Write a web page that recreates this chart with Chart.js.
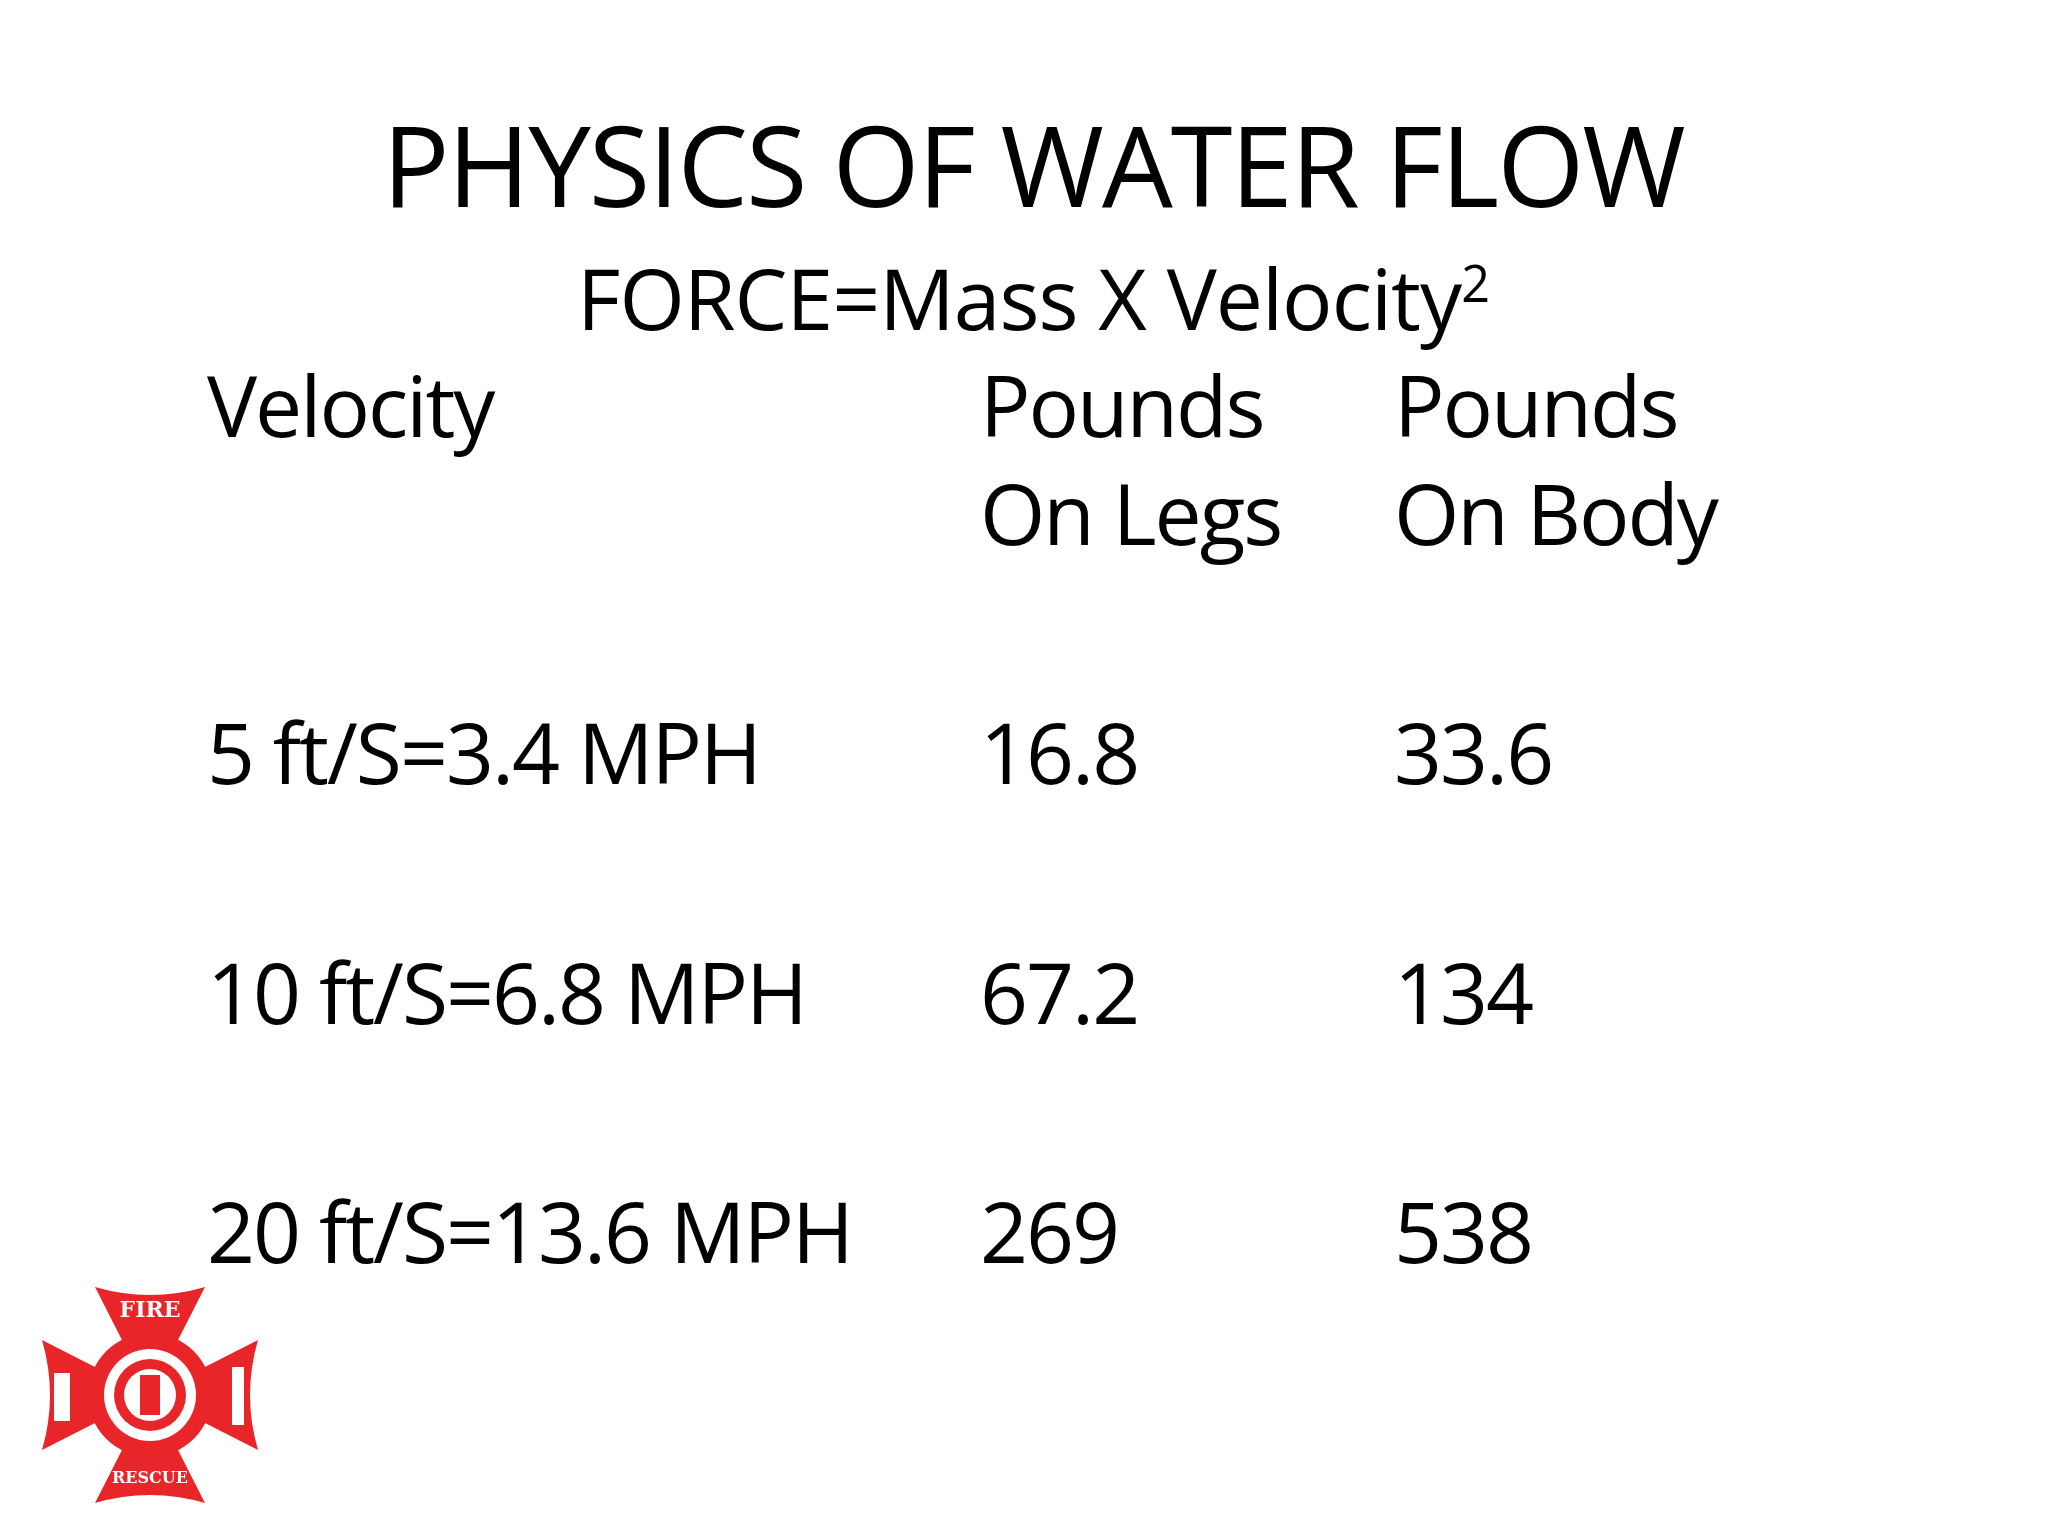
<!DOCTYPE html>
<html><head><meta charset="utf-8">
<script src="https://cdn.jsdelivr.net/npm/chart.js@4"></script>
<style>
html,body{margin:0;width:2048px;height:1536px;background:#fff;overflow:hidden;font-family:"Open Sans",sans-serif;color:#000}
.t{position:absolute;white-space:nowrap;line-height:1}
#logo{position:absolute;left:30px;top:1275px;width:240px;height:240px}
</style></head><body>
<div id="wrap"></div>
<div id="logo"><canvas id="c" width="240" height="240"></canvas></div>
<script>
const title = "PHYSICS OF WATER FLOW";
const subtitle = "FORCE=Mass X Velocity";
const headers = [["Velocity",""],["Pounds","On Legs"],["Pounds","On Body"]];
const velocities = ["5 ft/S=3.4 MPH","10 ft/S=6.8 MPH","20 ft/S=13.6 MPH"];
const legs = ["16.8","67.2","269"];
const body = ["33.6","134","538"];

const colX=[207,980,1394], rowY=[779,1019,1258];
const w=document.getElementById('wrap');
function txt(s,x,y,size,center,ls){const d=document.createElement('div');d.className='t';d.innerHTML=s;
 d.style.fontSize=size+'px';d.style.top=(y-size*0.82)+'px';
 if(center){d.style.left='0';d.style.width='2066px';d.style.textAlign='center';}else d.style.left=x+'px';
 d.style.letterSpacing=(ls===undefined?-2:ls)+'px';w.appendChild(d);}
txt(title,0,200,112,true,-2);
txt(subtitle+'<sup style="font-size:0.6em;vertical-align:0.55em">2</sup>',0,325,84,true,-1);
headers.forEach((h,i)=>{txt(h[0],colX[i],432,84);if(h[1])txt(h[1],colX[i],540,84);});
[velocities,legs,body].forEach((col,i)=>col.forEach((v,j)=>txt(v,colX[i],rowY[j],84)));

const logoPlugin={id:'logo',afterDraw(ch){const g=ch.ctx;const cx=120,cy=120;g.save();
 g.fillStyle='#e8262a';g.beginPath();
 for(let k=0;k<4;k++){g.save();g.translate(cx,cy);g.rotate(k*Math.PI/2);
  g.moveTo(0,0);g.lineTo(-55,-108);g.quadraticCurveTo(0,-92,55,-108);g.lineTo(0,0);g.restore();}
 g.fill();
 g.beginPath();g.arc(cx,cy,62,0,Math.PI*2);g.fill();
 g.fillStyle='#fff';g.beginPath();g.arc(cx,cy,46,0,Math.PI*2);g.fill();
 g.fillStyle='#e8262a';g.beginPath();g.arc(cx,cy,36,0,Math.PI*2);g.fill();
 g.fillStyle='#fff';g.beginPath();g.arc(cx,cy,26,0,Math.PI*2);g.fill();
 g.font='bold 22px "DejaVu Serif"';g.textAlign='center';g.fillText('FIRE',cx,42);
 g.font='bold 16px "DejaVu Serif"';g.fillText('RESCUE',cx,208);
 g.fillRect(24,98,16,48);g.fillRect(202,92,12,58);
 g.fillStyle='#e8262a';g.fillRect(110,100,20,40);g.restore();}};
new Chart(document.getElementById('c'),{type:'scatter',data:{datasets:[{data:[]}]},
 options:{responsive:false,animation:false,plugins:{legend:{display:false},tooltip:{enabled:false}},
 scales:{x:{display:false},y:{display:false}}},plugins:[logoPlugin]});
</script></body></html>
